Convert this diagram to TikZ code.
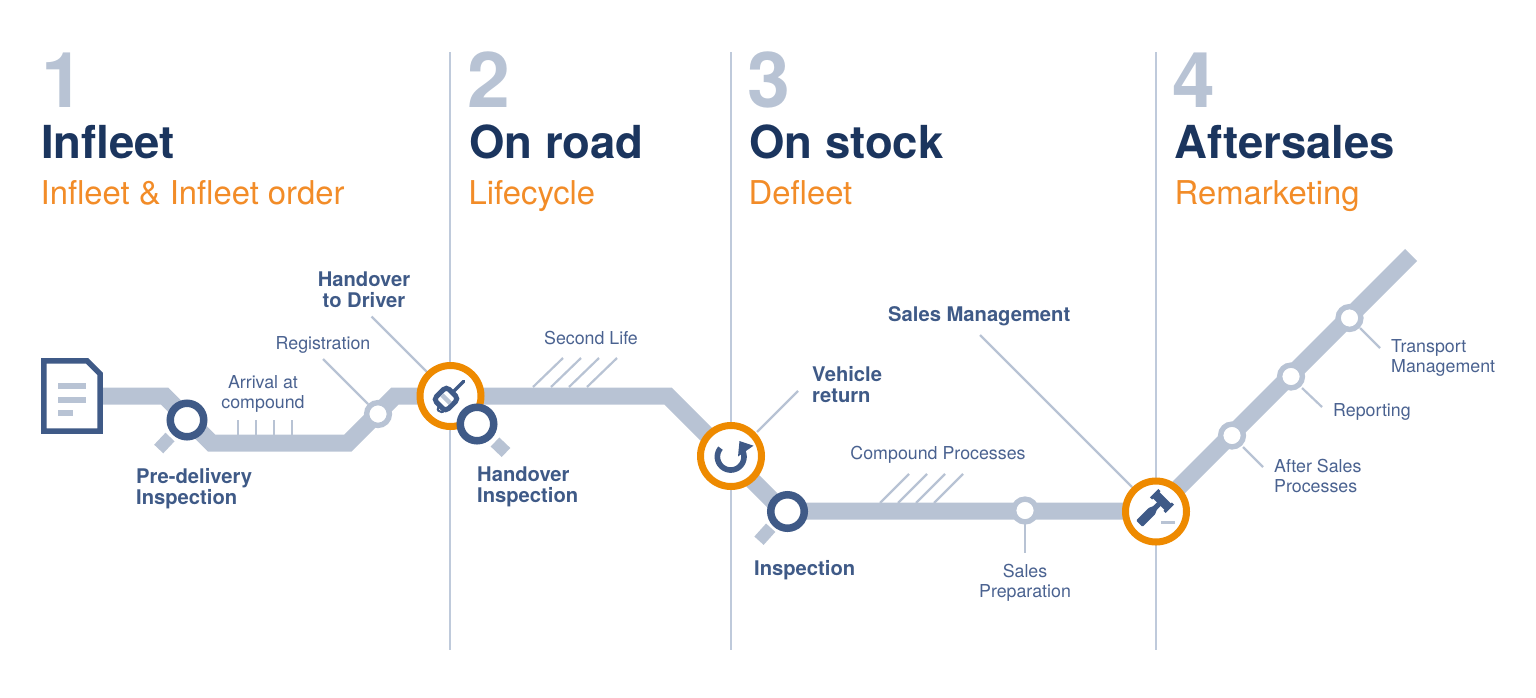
\documentclass[tikz,border=0pt]{standalone}
\usepackage{fontspec}
\setmainfont{TeX Gyre Heros}
\definecolor{track}{HTML}{B8C3D4}
\definecolor{rule}{HTML}{BFCADB}
\definecolor{navy}{HTML}{1B355E}
\definecolor{steel}{HTML}{3F5A87}
\definecolor{label}{HTML}{4A6290}
\definecolor{ring}{HTML}{EE8A00}
\definecolor{suborange}{HTML}{F28C28}
\tikzset{
  number/.style={anchor=base west,inner sep=0pt,text=track,font=\fontsize{77}{77}\selectfont\bfseries},
  heading/.style={anchor=base west,inner sep=0pt,text=navy,font=\fontsize{45.5}{46}\selectfont\bfseries},
  subheading/.style={anchor=base west,inner sep=0pt,text=suborange,font=\fontsize{32.8}{34}\selectfont},
  small/.style={inner sep=0pt,text=label,align=center,font=\fontsize{17.8}{20.5}\selectfont},
  smallleft/.style={small,align=left},
  strong/.style={inner sep=0pt,text=steel,align=left,font=\fontsize{20.2}{20.5}\selectfont\bfseries},
  strongmid/.style={strong,align=center},
  divider/.style={draw=rule,line width=2.7pt},
  line/.style={draw=track,line width=17pt,miter limit=10},
  stub/.style={draw=track,line width=12.5pt},
  lead/.style={draw=track,line width=2.2pt},
  hub/.style={circle,draw=ring,fill=white,line width=7pt,minimum size=61pt,inner sep=0pt},
  major/.style={circle,draw=steel,fill=white,line width=7.5pt,minimum size=33.5pt,inner sep=0pt},
  minor/.style={circle,draw=track,fill=white,line width=5.4pt,minimum size=22.8pt,inner sep=0pt},
}
\begin{document}
\begin{tikzpicture}[x=1pt,y=-1pt]
\useasboundingbox (0,0) rectangle (1536,697);
% dividers
\draw[divider] (450,52) -- (450,650);
\draw[divider] (731,52) -- (731,650);
\draw[divider] (1156,52) -- (1156,650);
% headings
\node[number] (n1) at (41,107) {1};
\node[number] (n2) at (467.5,107) {2};
\node[number] (n3) at (747.5,107) {3};
\node[number] (n4) at (1172.5,107) {4};
\node[heading] (h1) at (41,158) {Infleet};
\node[heading] (h2) at (469,158) {On road};
\node[heading] (h3) at (749,158) {On stock};
\node[heading] (h4) at (1174,158) {Aftersales};
\node[subheading] (s1) at (40.5,204) {Infleet \& Infleet order};
\node[subheading] (s2) at (468.5,204) {Lifecycle};
\node[subheading] (s3) at (748.5,204) {Defleet};
\node[subheading] (s4) at (1174.5,204) {Remarketing};
% route points
\coordinate (p0) at (103,396);
\coordinate (p1) at (164.5,396);
\coordinate (p2) at (211.5,443);
\coordinate (p3) at (348,443);
\coordinate (p4) at (395,396);
\coordinate (p5) at (668,396);
\coordinate (p6) at (783,511);
\coordinate (p7) at (1155,511);
\coordinate (p8) at (1411,255);
\draw[line] (p0) -- (p1) -- (p2) -- (p3) -- (p4) -- (p5) -- (p6) -- (p7) -- (p8);
% inspection stubs
\coordinate (st1a) at (170,437); \coordinate (st1b) at (158.7,449);
\coordinate (st2a) at (495,442); \coordinate (st2b) at (506,452.5);
\coordinate (st3a) at (770.7,527.7); \coordinate (st3b) at (759,540.7);
\draw[stub] (st1a) -- (st1b);
\draw[stub] (st2a) -- (st2b);
\draw[stub] (st3a) -- (st3b);
% leaders and hatches
\foreach \a/\b/\c/\d in {371.5/316.5/427/372, 323/359/368/404, 757/432/798/391, 980/335/1132/487,
  1360/328/1380/348, 1302/388/1322/407, 1243/447/1263/467, 1025/523/1025/553,
  533/387/563/358, 551/387/581/358, 569/387/599/358, 587/387/617/358,
  880/503/909/474, 898/503/927/474, 916/503/945/474, 934/503/963/474,
  238/435/238/420, 256/435/256/420, 274/435/274/420, 292/435/292/420}{
  \coordinate (la) at (\a,\b); \coordinate (lb) at (\c,\d);
  \draw[lead] (la) -- (lb);
}
% stations
\node[minor] (reg) at (378,414) {};
\node[minor] (sprep) at (1025,510.5) {};
\node[minor] (aft) at (1232,435.5) {};
\node[minor] (rep) at (1291,376.5) {};
\node[minor] (tra) at (1349.5,318) {};
\node[major] (pdi) at (187,420) {};
\node[hub] (hd) at (450.5,396) {};
\node[major] (hi) at (477,424) {};
\node[hub] (vr) at (731,456) {};
\node[major] (ins) at (787.5,511.5) {};
\node[hub] (sm) at (1156,511.5) {};
% document icon
\coordinate (d1) at (43.8,360.8); \coordinate (d2) at (87,360.8);
\coordinate (d3) at (100.2,374); \coordinate (d4) at (100.2,431.2); \coordinate (d5) at (43.8,431.2);
\filldraw[draw=steel,fill=white,line width=5.5pt,miter limit=10] (d1) -- (d2) -- (d3) -- (d4) -- (d5) -- cycle;
\fill[track] (58,383) rectangle (86,389);
\fill[track] (58,397) rectangle (86,403);
\fill[track] (58,410) rectangle (73,416);
% key icon
\begin{scope}[shift={(446,399)},rotate=45]
  \draw[steel,line width=3.5pt,line cap=round] (8,0) -- (25,0);
  \draw[steel,line width=2pt,fill=white,rounded corners=1pt] (-9,-1) -- (-14,2) -- (-12,7) -- (-9,7) -- cycle;
  \filldraw[draw=steel,fill=white,line width=5pt,rounded corners=4pt] (-9,-8.5) rectangle (9,8.5);
  \fill[track] (-2.2,-6) rectangle (2.2,6);
\end{scope}
% return icon
\begin{scope}[shift={(730.7,456.7)}]
  \draw[steel,line width=5.6pt] plot[smooth,domain=140:400,samples=40] ({13.3*cos(\x)},{-13.3*sin(\x)});
\end{scope}
\coordinate (ar1) at (739.5,441); \coordinate (ar2) at (753.5,445.7); \coordinate (ar3) at (738,456.5);
\fill[steel] (ar1) -- (ar2) -- (ar3) -- cycle;
% hammer icon
\begin{scope}[shift={(1162,501)},rotate=45]
  \fill[steel,rounded corners=1pt] (-32,-4.5) -- (-14,-4.5) -- (-10,-2.5) -- (0,-2.5) -- (0,2.5) -- (-10,2.5) -- (-14,4.5) -- (-32,4.5) -- cycle;
  \fill[steel] (-4.5,-8.5) rectangle (4.5,8.5);
  \fill[steel] (-6,-11) rectangle (6,-8);
  \fill[steel] (-6,8) rectangle (6,11);
\end{scope}
\fill[track] (1161,520.5) rectangle (1175,523.5);
% labels
\node[small,anchor=base] (lreg) at (323,349.5) {Registration};
\node[small,anchor=base] (larr) at (263,408.5) {Arrival at\\compound};
\node[small,anchor=base] (lsec) at (591,344.5) {Second Life};
\node[small,anchor=base] (lcom) at (938,459.5) {Compound Processes};
\node[small,anchor=base] (lspr) at (1025,597.5) {Sales\\Preparation};
\node[smallleft,anchor=base west] (ltra) at (1391,372.5) {Transport\\Management};
\node[smallleft,anchor=base west] (lrep) at (1333,416.5) {Reporting};
\node[smallleft,anchor=base west] (laft) at (1274,492.5) {After Sales\\Processes};
\node[strong,anchor=base west] (lpdi) at (136,504) {Pre-delivery\\Inspection};
\node[strongmid,anchor=base] (lhd) at (364,307) {Handover\\to Driver};
\node[strong,anchor=base west] (lhi) at (477,502) {Handover\\Inspection};
\node[strong,anchor=base west] (lvr) at (812,402) {Vehicle\\return};
\node[strong,anchor=base west] (lins) at (754,575) {Inspection};
\node[strong,anchor=base west] (lsm) at (888,321) {Sales Management};
\end{tikzpicture}
\end{document}
